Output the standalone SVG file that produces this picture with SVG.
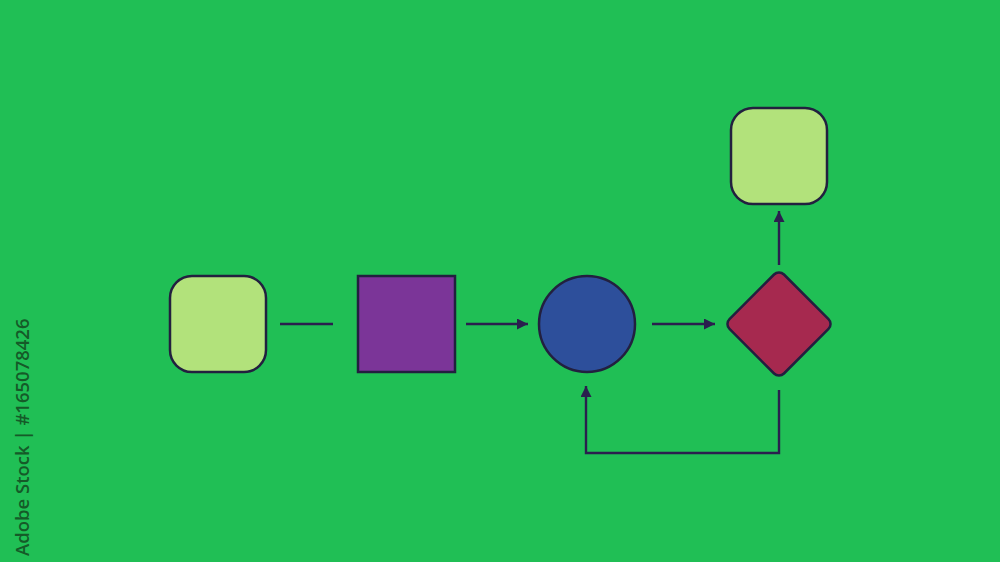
<svg xmlns="http://www.w3.org/2000/svg" width="1000" height="562" viewBox="0 0 1000 562">
  <defs>
    <marker id="arrow" viewBox="0 0 10 10" refX="10" refY="5" markerWidth="11" markerHeight="11" markerUnits="userSpaceOnUse" orient="auto">
      <path d="M0,0 L10,5 L0,10 Z" fill="#2a1f4e"/>
    </marker>
    <style>
      .edge { fill: none; stroke: #2a1f4e; stroke-width: 2.4; }
      .node { stroke: #22203f; stroke-width: 2.5; }
      .start { fill: #b2e27b; }
      .proc { fill: #7b3598; }
      .circ { fill: #2d4f9b; }
      .dec { fill: #a6294f; }
      .credit { font-family: "Open Sans", "Liberation Sans", sans-serif; font-size: 18.5px; font-weight: 600; fill: #155a28; }
    </style>
  </defs>
  <rect width="1000" height="562" fill="#20bf55"/>

  <g id="connectors">
    <line class="edge" x1="280" y1="324" x2="333" y2="324"/>
    <line class="edge" x1="466" y1="324" x2="528" y2="324" marker-end="url(#arrow)"/>
    <line class="edge" x1="652" y1="324" x2="715" y2="324" marker-end="url(#arrow)"/>
    <line class="edge" x1="779" y1="265" x2="779" y2="211" marker-end="url(#arrow)"/>
    <polyline class="edge" points="779,390 779,453 586,453 586,386" marker-end="url(#arrow)"/>
  </g>

  <g id="node-start">
    <rect class="node start" x="170" y="276" width="96" height="96" rx="22" ry="22"/>
  </g>
  <g id="node-process">
    <rect class="node proc" x="358" y="276" width="97" height="96"/>
  </g>
  <g id="node-circle">
    <circle class="node circ" cx="587" cy="324" r="48"/>
  </g>
  <g id="node-decision">
    <rect class="node dec" x="740.5" y="285.5" width="77" height="77" rx="7" ry="7" transform="rotate(45 779 324)"/>
  </g>
  <g id="node-end">
    <rect class="node start" x="731" y="108" width="96" height="96" rx="22" ry="22"/>
  </g>

  <text class="credit" transform="translate(29 556) rotate(-90)">Adobe Stock | #165078426</text>
</svg>
